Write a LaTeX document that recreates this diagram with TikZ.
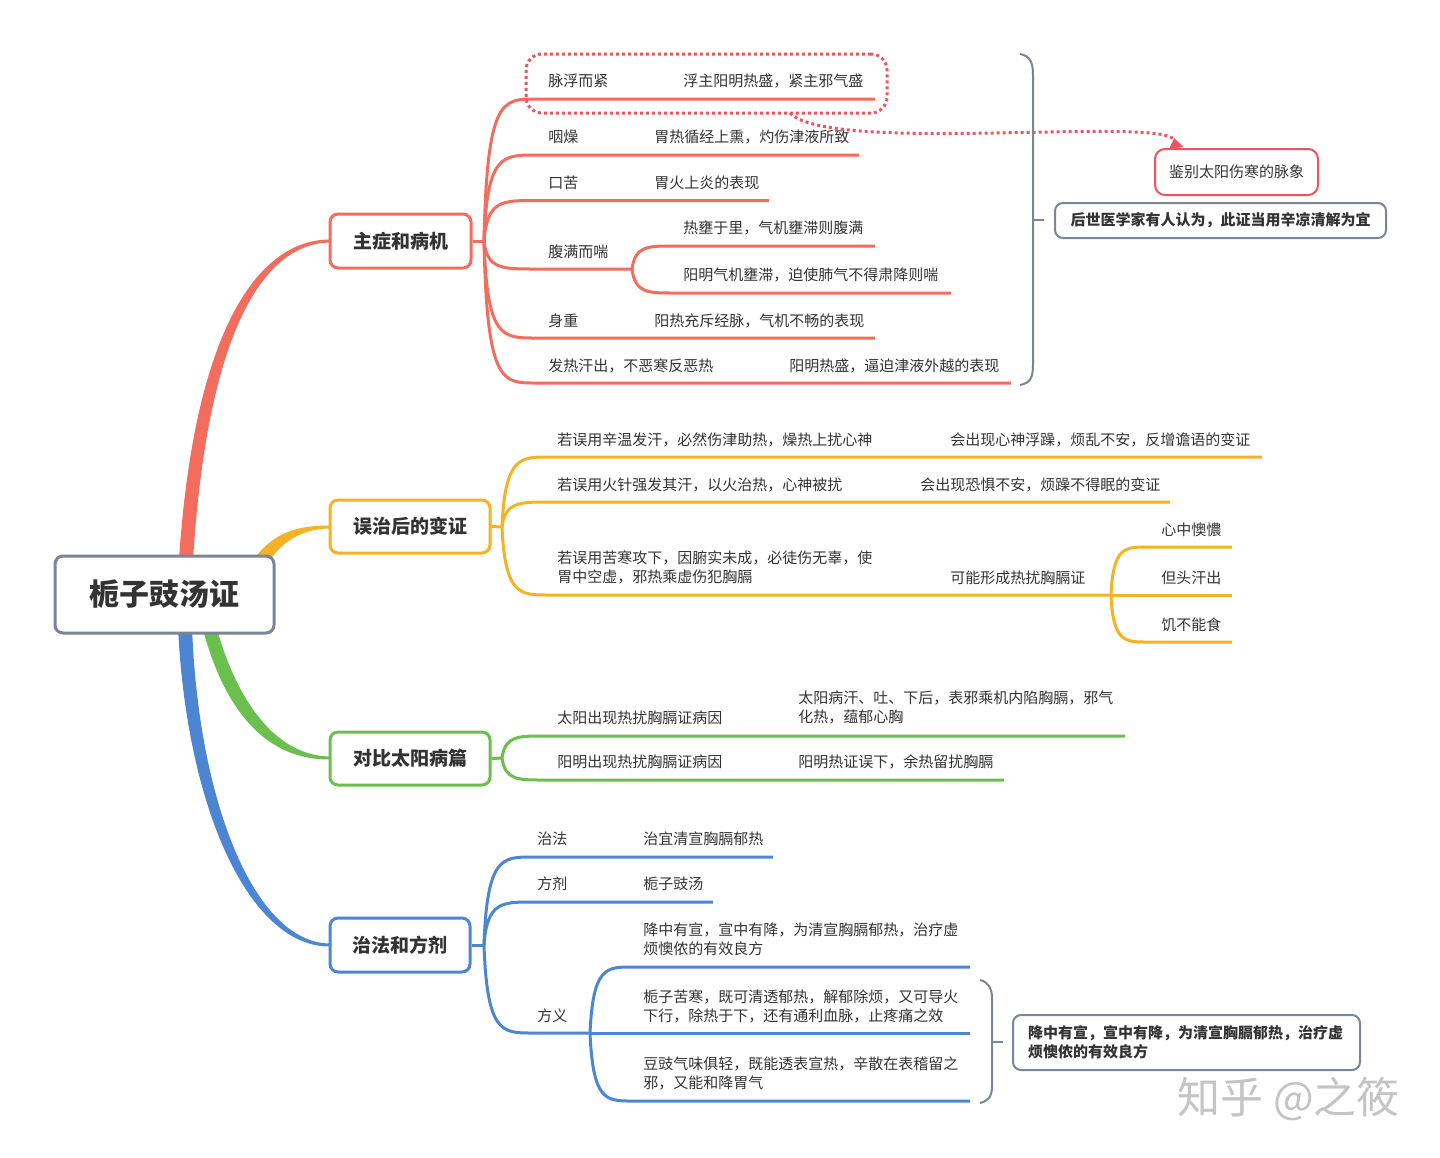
\documentclass[tikz,border=0pt]{standalone}
\usepackage{fontspec}
\setmainfont{Noto Sans CJK SC}
\usetikzlibrary{arrows.meta}
\definecolor{cred}{HTML}{F26D5D}
\definecolor{cpink}{HTML}{EC5461}
\definecolor{cyel}{HTML}{F5B324}
\definecolor{cgrn}{HTML}{6BBF4E}
\definecolor{cblu}{HTML}{4C86D3}
\definecolor{cgray}{HTML}{7D8494}
\definecolor{txt}{HTML}{333333}
\definecolor{wm}{HTML}{C4C4C4}
\tikzset{
  lbl/.style={anchor=west, inner sep=0pt, text=txt, align=left, font=\fontsize{7.5}{9.5}\selectfont},
  mbox/.style={draw, line width=1.5pt, rounded corners=4pt, fill=white, text=txt, inner sep=0pt, font=\bfseries\fontsize{9.5}{11}\selectfont},
  gbox/.style={draw=cgray, line width=1pt, rounded corners=4pt, fill=white, text=txt, inner sep=0pt},
  rl/.style={draw=cred, line width=1.5pt},
  yl/.style={draw=cyel, line width=1.5pt},
  gl/.style={draw=cgrn, line width=1.5pt},
  bl/.style={draw=cblu, line width=1.5pt},
  brk/.style={draw=cgray, line width=1pt},
  reddot/.style={draw=cpink, line width=1.5pt, dash pattern=on 1.5pt off 1.5pt},
}
\begin{document}
\begin{tikzpicture}[x=0.5pt,y=-0.5pt]
\useasboundingbox (0,0) rectangle (1440,1157);
\fill[white] (0,0) rectangle (1440,1157);

% ---------- main tapered branches ----------
\fill[cred] (179,560) .. controls (194,330) and (258,239.5) .. (330,239.5) -- (330,242.5) .. controls (262,243.5) and (207,335) .. (193,560) -- cycle;
\fill[cyel] (252,562) .. controls (272,532) and (298,525.5) .. (330,525.5) -- (330,528.5) .. controls (302,529) and (284,540) .. (268,562) -- cycle;
\fill[cgrn] (202,626) .. controls (228,725) and (276,760) .. (330,759.5) -- (330,756.5) .. controls (282,756) and (240,712) .. (216,626) -- cycle;
\fill[cblu] (178,626) .. controls (186,805) and (248,947) .. (330,946.5) -- (330,943.5) .. controls (254,943) and (198,800) .. (192,626) -- cycle;

% ---------- root and main boxes ----------
\node[mbox, draw=cgray, minimum width=109.5pt, minimum height=38.5pt, font=\bfseries\fontsize{15}{17}\selectfont] (root) at (164.5,594.5) {栀子豉汤证};
\node[mbox, draw=cred, minimum width=70.5pt, minimum height=27pt] (zz) at (400.5,241) {主症和病机};
\node[mbox, draw=cyel, minimum width=80pt, minimum height=26.5pt] (wz) at (410,526.5) {误治后的变证};
\node[mbox, draw=cgrn, minimum width=80pt, minimum height=26.5pt] (db) at (410,758.5) {对比太阳病篇};
\node[mbox, draw=cblu, minimum width=70pt, minimum height=27pt] (zf) at (400,945) {治法和方剂};

% ---------- red section ----------
\coordinate (ro) at (484,241);
\draw[rl] (zz.east) -- (ro);
\coordinate (r1) at (875,99);
\coordinate (r2) at (859,155);
\coordinate (r3) at (769,200.5);
\coordinate (r4) at (632,269);
\coordinate (r5) at (875,338);
\coordinate (r6) at (1011,383);
\draw[rl] (ro) .. controls (487,99) and (502,99) .. (535,99) -- (r1);
\draw[rl] (ro) .. controls (487,155) and (502,155) .. (535,155) -- (r2);
\draw[rl] (ro) .. controls (487,200.5) and (502,200.5) .. (535,200.5) -- (r3);
\draw[rl] (ro) .. controls (487,269) and (502,269) .. (535,269) -- (r4);
\draw[rl] (ro) .. controls (487,338) and (502,338) .. (535,338) -- (r5);
\draw[rl] (ro) .. controls (487,383) and (502,383) .. (535,383) -- (r6);
\coordinate (r41) at (875,246);
\coordinate (r42) at (951,293);
\draw[rl] (r4) .. controls (635,246) and (648,246) .. (673,246) -- (r41);
\draw[rl] (r4) .. controls (635,293) and (648,293) .. (673,293) -- (r42);

\node[lbl] (t1a) at (548,81) {脉浮而紧};
\node[lbl] (t1b) at (683,81) {浮主阳明热盛，紧主邪气盛};
\node[lbl] (t2a) at (548,137) {咽燥};
\node[lbl] (t2b) at (654,137) {胃热循经上熏，灼伤津液所致};
\node[lbl] (t3a) at (548,183) {口苦};
\node[lbl] (t3b) at (654,183) {胃火上炎的表现};
\node[lbl] (t4a) at (548,252) {腹满而喘};
\node[lbl] (t4b) at (683,228) {热壅于里，气机壅滞则腹满};
\node[lbl] (t4c) at (683,275) {阳明气机壅滞，迫使肺气不得肃降则喘};
\node[lbl] (t5a) at (548,321) {身重};
\node[lbl] (t5b) at (654,321) {阳热充斥经脉，气机不畅的表现};
\node[lbl] (t6a) at (548,366) {发热汗出，不恶寒反恶热};
\node[lbl] (t6b) at (789,366) {阳明热盛，逼迫津液外越的表现};

% dotted box and relation arrow
\node[reddot, rounded corners=8pt, minimum width=180.5pt, minimum height=29.5pt, inner sep=0pt] (dbox) at (706.5,83.5) {};
\node[draw=cpink, line width=1pt, rounded corners=5pt, fill=white, text=txt, inner sep=0pt, minimum width=81.5pt, minimum height=23pt, font=\fontsize{7.5}{9}\selectfont] (jb) at (1236.5,172) {鉴别太阳伤寒的脉象};
\coordinate (as) at (790,113);
\coordinate (ae) at (1176,148);
\draw[reddot, -{Triangle[reversed, width=7pt, length=5pt]}] (as) .. controls (830,155) and (1170,115) .. (ae);

% bracket and summary
\draw[brk] (1020,54) .. controls (1030,56) and (1033,62) .. (1033,75) -- (1033,365) .. controls (1033,378) and (1030,383) .. (1020,385);
\coordinate (bk1) at (1044,220);
\draw[brk] (1033,220) -- (bk1);
\node[gbox, minimum width=165.5pt, minimum height=17.5pt, font=\bfseries\fontsize{7.5}{9}\selectfont] (hs) at (1220.5,220.5) {后世医学家有人认为，此证当用辛凉清解为宜};

% ---------- yellow section ----------
\coordinate (yo) at (502,527);
\draw[yl] (wz.east) -- (yo);
\coordinate (y1) at (1262,457);
\coordinate (y2) at (1170,502);
\coordinate (y3) at (1111,595);
\draw[yl] (yo) .. controls (505,457) and (520,457) .. (548,457) -- (y1);
\draw[yl] (yo) .. controls (505,502) and (520,502) .. (548,502) -- (y2);
\draw[yl] (yo) .. controls (505,595) and (520,595) .. (548,595) -- (y3);
\coordinate (y31) at (1232,547);
\coordinate (y32) at (1232,595);
\coordinate (y33) at (1232,642);
\draw[yl] (y3) .. controls (1113,547) and (1125,547) .. (1147,547) -- (y31);
\draw[yl] (y3) -- (y32);
\draw[yl] (y3) .. controls (1113,642) and (1125,642) .. (1147,642) -- (y33);

\node[lbl] (u1a) at (557,440) {若误用辛温发汗，必然伤津助热，燥热上扰心神};
\node[lbl] (u1b) at (950,440) {会出现心神浮躁，烦乱不安，反增谵语的变证};
\node[lbl] (u2a) at (557,485) {若误用火针强发其汗，以火治热，心神被扰};
\node[lbl] (u2b) at (920,485) {会出现恐惧不安，烦躁不得眠的变证};
\node[lbl] (u3a) at (557,567.5) {若误用苦寒攻下，因腑实未成，必徒伤无辜，使\\胃中空虚，邪热乘虚伤犯胸膈};
\node[lbl] (u3b) at (950,578) {可能形成热扰胸膈证};
\node[lbl] (u31) at (1161,530) {心中懊憹};
\node[lbl] (u32) at (1161,578) {但头汗出};
\node[lbl] (u33) at (1161,625) {饥不能食};

% ---------- green section ----------
\coordinate (go) at (502,758);
\draw[gl] (db.east) -- (go);
\coordinate (g1) at (1125,736);
\coordinate (g2) at (1004,780);
\draw[gl] (go) .. controls (505,736) and (518,736) .. (543,736) -- (g1);
\draw[gl] (go) .. controls (505,780) and (518,780) .. (543,780) -- (g2);
\node[lbl] (v1a) at (557,718) {太阳出现热扰胸膈证病因};
\node[lbl] (v1b) at (798,707.5) {太阳病汗、吐、下后，表邪乘机内陷胸膈，邪气\\化热，蕴郁心胸};
\node[lbl] (v2a) at (557,762) {阳明出现热扰胸膈证病因};
\node[lbl] (v2b) at (798,762) {阳明热证误下，余热留扰胸膈};

% ---------- blue section ----------
\coordinate (bo) at (484,945);
\draw[bl] (zf.east) -- (bo);
\coordinate (b1) at (773,857);
\coordinate (b2) at (713,902);
\coordinate (b3) at (590,1033);
\draw[bl] (bo) .. controls (487,857) and (502,857) .. (532,857) -- (b1);
\draw[bl] (bo) .. controls (487,902) and (502,902) .. (532,902) -- (b2);
\draw[bl] (bo) .. controls (487,1033) and (502,1033) .. (532,1033) -- (b3);
\coordinate (b31) at (970,967);
\coordinate (b32) at (970,1033);
\coordinate (b33) at (970,1101);
\draw[bl] (b3) .. controls (593,967) and (606,967) .. (632,967) -- (b31);
\draw[bl] (b3) -- (b32);
\draw[bl] (b3) .. controls (593,1101) and (606,1101) .. (632,1101) -- (b33);

\node[lbl] (w1a) at (537,839) {治法};
\node[lbl] (w1b) at (643,839) {治宜清宣胸膈郁热};
\node[lbl] (w2a) at (537,884) {方剂};
\node[lbl] (w2b) at (643,884) {栀子豉汤};
\node[lbl] (w3a) at (537,1016) {方义};
\node[lbl] (w31) at (643,939.5) {降中有宣，宣中有降，为清宣胸膈郁热，治疗虚\\烦懊侬的有效良方};
\node[lbl] (w32) at (643,1006.5) {栀子苦寒，既可清透郁热，解郁除烦，又可导火\\下行，除热于下，还有通利血脉，止疼痛之效};
\node[lbl] (w33) at (643,1073.5) {豆豉气味俱轻，既能透表宣热，辛散在表稽留之\\邪，又能和降胃气};

\draw[brk] (980,980) .. controls (988,982) and (992,988) .. (992,998) -- (992,1086) .. controls (992,1097) and (988,1101) .. (980,1103);
\coordinate (bk2) at (1003,1042);
\draw[brk] (992,1042) -- (bk2);
\node[gbox, minimum width=173.5pt, minimum height=27.5pt, inner xsep=7.5pt, text width=158.5pt, align=left, font=\bfseries\fontsize{7.5}{9.5}\selectfont] (jz) at (1186.5,1042.5) {降中有宣，宣中有降，为清宣胸膈郁热，治疗虚\\烦懊侬的有效良方};

% watermark
\node[anchor=west, inner sep=0pt, text=wm, font=\fontsize{21.5}{23}\selectfont] (wmk) at (1177,1099) {知乎 @之筱};
\end{tikzpicture}
\end{document}
